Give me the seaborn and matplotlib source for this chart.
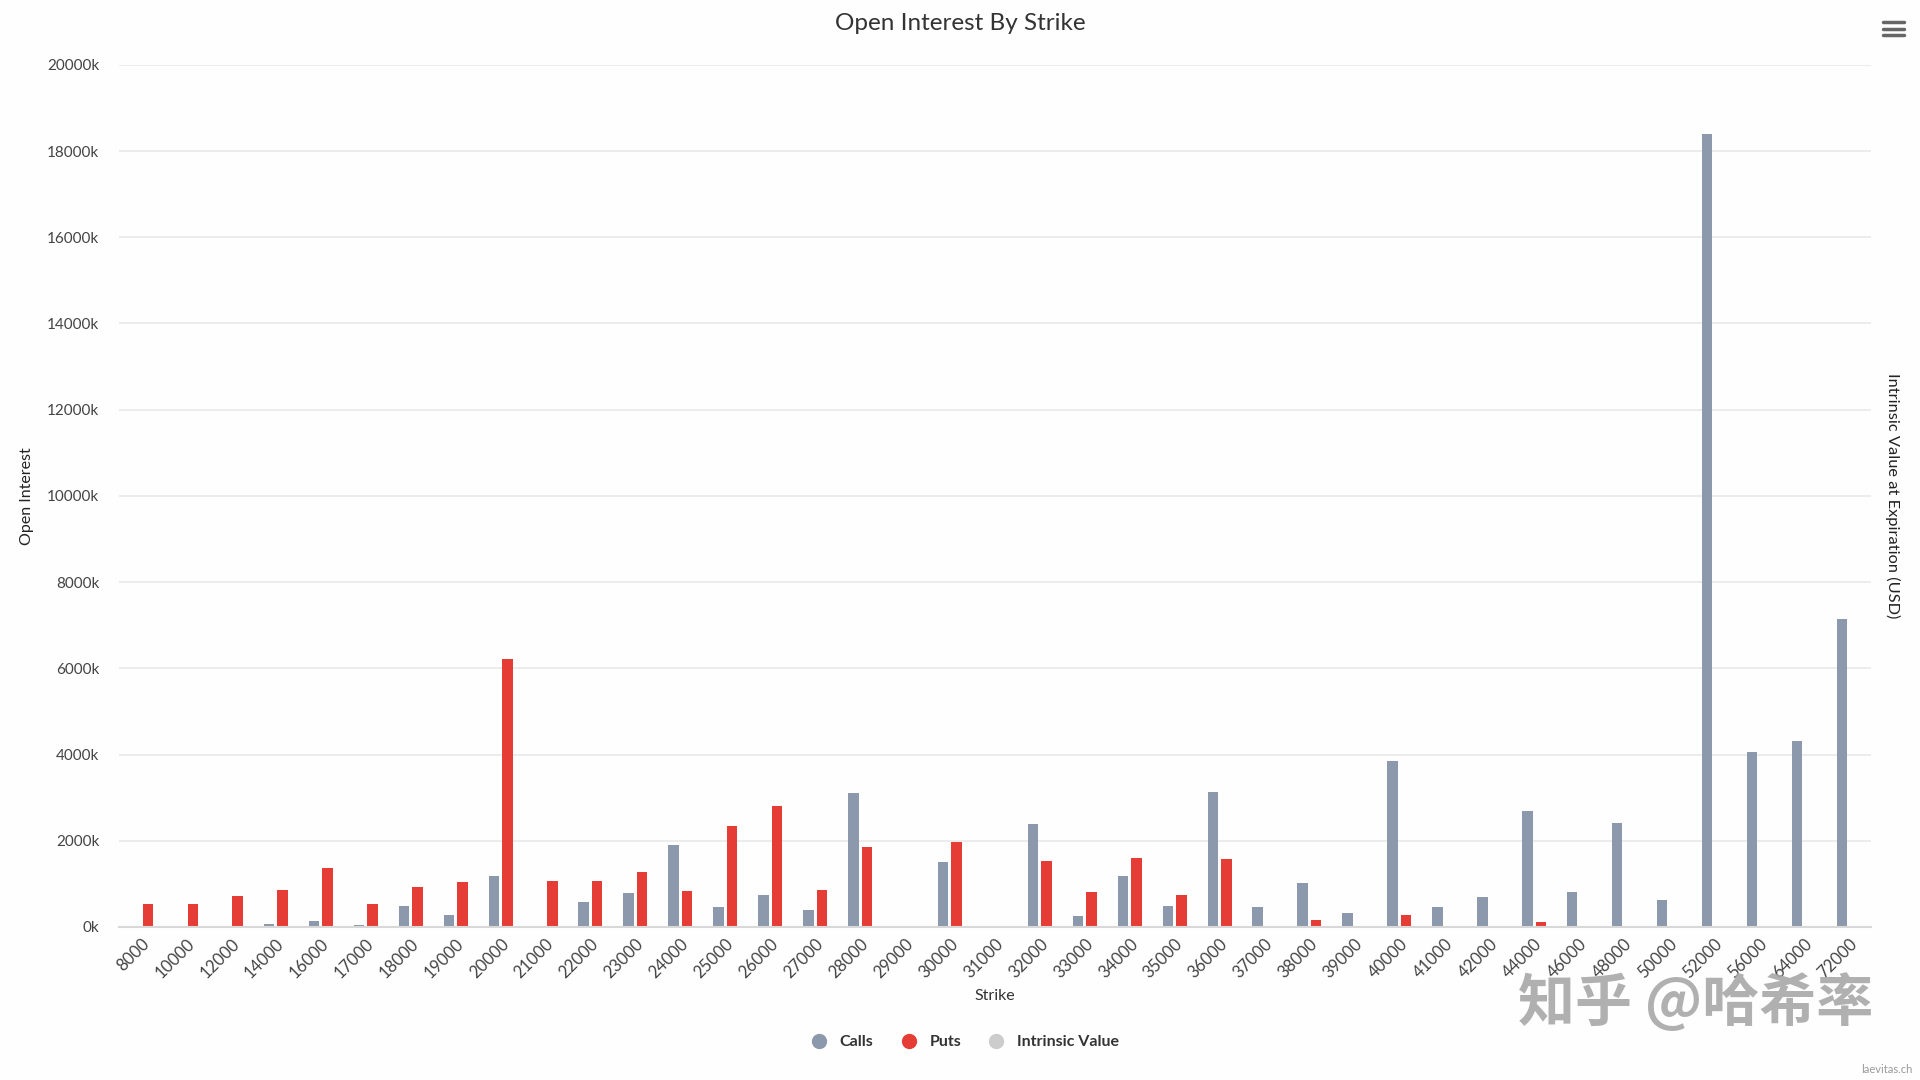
import matplotlib
matplotlib.use("Agg")
import matplotlib.pyplot as plt
import seaborn as sns
import pandas as pd
from matplotlib.lines import Line2D
from matplotlib.ticker import FuncFormatter, MultipleLocator

# ---- data (open interest in thousands) ----
strikes = [8000, 10000, 12000, 14000, 16000, 17000, 18000, 19000, 20000, 21000,
           22000, 23000, 24000, 25000, 26000, 27000, 28000, 29000, 30000, 31000,
           32000, 33000, 34000, 35000, 36000, 37000, 38000, 39000, 40000, 41000,
           42000, 44000, 46000, 48000, 50000, 52000, 56000, 64000, 72000]
calls_k = [0, 0, 0, 60, 145, 40, 490, 285, 1190, 0,
           580, 780, 1905, 465, 750, 400, 3100, 0, 1505, 0,
           2400, 265, 1190, 490, 3130, 465, 1010, 318, 3855, 465,
           698, 2698, 805, 2410, 636, 18390, 4060, 4325, 7145]
puts_k = [540, 540, 725, 865, 1360, 540, 925, 1045, 6225, 1075,
          1075, 1275, 845, 2350, 2805, 865, 1855, 0, 1970, 0,
          1537, 812, 1590, 750, 1568, 0, 170, 0, 285, 0,
          0, 115, 0, 0, 0, 0, 0, 0, 0]
series_names = ["Calls", "Puts"]
legend_names = ["Calls", "Puts", "Intrinsic Value"]
colors = {"Calls": "#8C98AC", "Puts": "#E53C36", "Intrinsic Value": "#CCCCCC"}

labels = [str(s) for s in strikes]
n = len(labels)
df = pd.DataFrame({
    "Strike": labels * 2,
    "OI": calls_k + puts_k,
    "Type": ["Calls"] * n + ["Puts"] * n,
})

sns.set_theme(style="white")
plt.rcParams['font.family'] = ['Lato', 'DejaVu Sans']

fig = plt.figure(figsize=(19.2, 10.8), dpi=100)
fig.patch.set_facecolor("#FEFEFE")
ax = fig.add_axes([0.0618, 0.1417, 0.9127, 0.7983])
ax.set_facecolor("#FEFEFE")

sns.barplot(data=df, x="Strike", y="OI", hue="Type", order=labels,
            hue_order=series_names, palette=colors, width=0.6, gap=0.22,
            errorbar=None, legend=False, saturation=1, linewidth=0, ax=ax)

ax.set_ylim(0, 20000)
ax.yaxis.set_major_locator(MultipleLocator(2000))
ax.yaxis.set_major_formatter(FuncFormatter(lambda v, p: f"{int(v)}k"))
ax.grid(axis="y", color="#E9E9E9", linewidth=1.2)
ax.set_axisbelow(True)
for s in ["top", "right", "left"]:
    ax.spines[s].set_visible(False)
ax.spines["bottom"].set_color("#D8D8D8")
ax.spines["bottom"].set_linewidth(1.5)
ax.tick_params(axis="y", length=0, pad=14, labelsize=11, labelcolor="#444444")
ax.tick_params(axis="x", length=0, pad=6, labelsize=12, labelcolor="#444444")
plt.setp(ax.get_xticklabels(), rotation=45, ha="right", rotation_mode="anchor")
ax.set_xlabel("")
ax.set_ylabel("")

# secondary axis label (no visible ticks)
ax2 = ax.twinx()
ax2.set_yticks([])
for s in ax2.spines.values():
    s.set_visible(False)

fig.text(0.5, 0.978, "Open Interest By Strike", ha="center", va="center",
         fontsize=17.5, color="#333333")
fig.text(0.014, 0.541, "Open Interest", rotation=90, ha="center", va="center",
         fontsize=11.5, color="#222222")
fig.text(0.9855, 0.541, "Intrinsic Value at Expiration (USD)", rotation=-90,
         ha="center", va="center", fontsize=11.8, color="#222222")
fig.text(0.518, 0.078, "Strike", ha="center", va="center", fontsize=11.5,
         color="#333333")

handles = [Line2D([0], [0], marker="o", linestyle="", markersize=10,
                  markerfacecolor=colors[k], markeredgecolor=colors[k], label=k)
           for k in legend_names]
leg = fig.legend(handles=handles, loc="center", bbox_to_anchor=(0.5005, 0.035),
                 ncol=3, frameon=False, fontsize=11.5, handletextpad=0.3,
                 columnspacing=1.2)
for t in leg.get_texts():
    t.set_fontweight("bold")
    t.set_color("#333333")

# hamburger menu icon
for yy in [0.9795, 0.9735, 0.9675]:
    fig.add_artist(Line2D([0.9805, 0.9915], [yy, yy], color="#666666",
                          linewidth=2.5, solid_capstyle="round"))

# watermark and credit
fig.text(0.883, 0.071, "知乎 @哈希率", ha="center", va="center", fontsize=41,
         fontweight="bold", color="#A8A8A8", alpha=0.9,
         family=["Noto Sans CJK SC", "DejaVu Sans"])
fig.text(0.996, 0.01, "laevitas.ch", ha="right", va="center", fontsize=8,
         color="#999999")

fig.savefig("out.png", dpi=100, facecolor=fig.get_facecolor())
